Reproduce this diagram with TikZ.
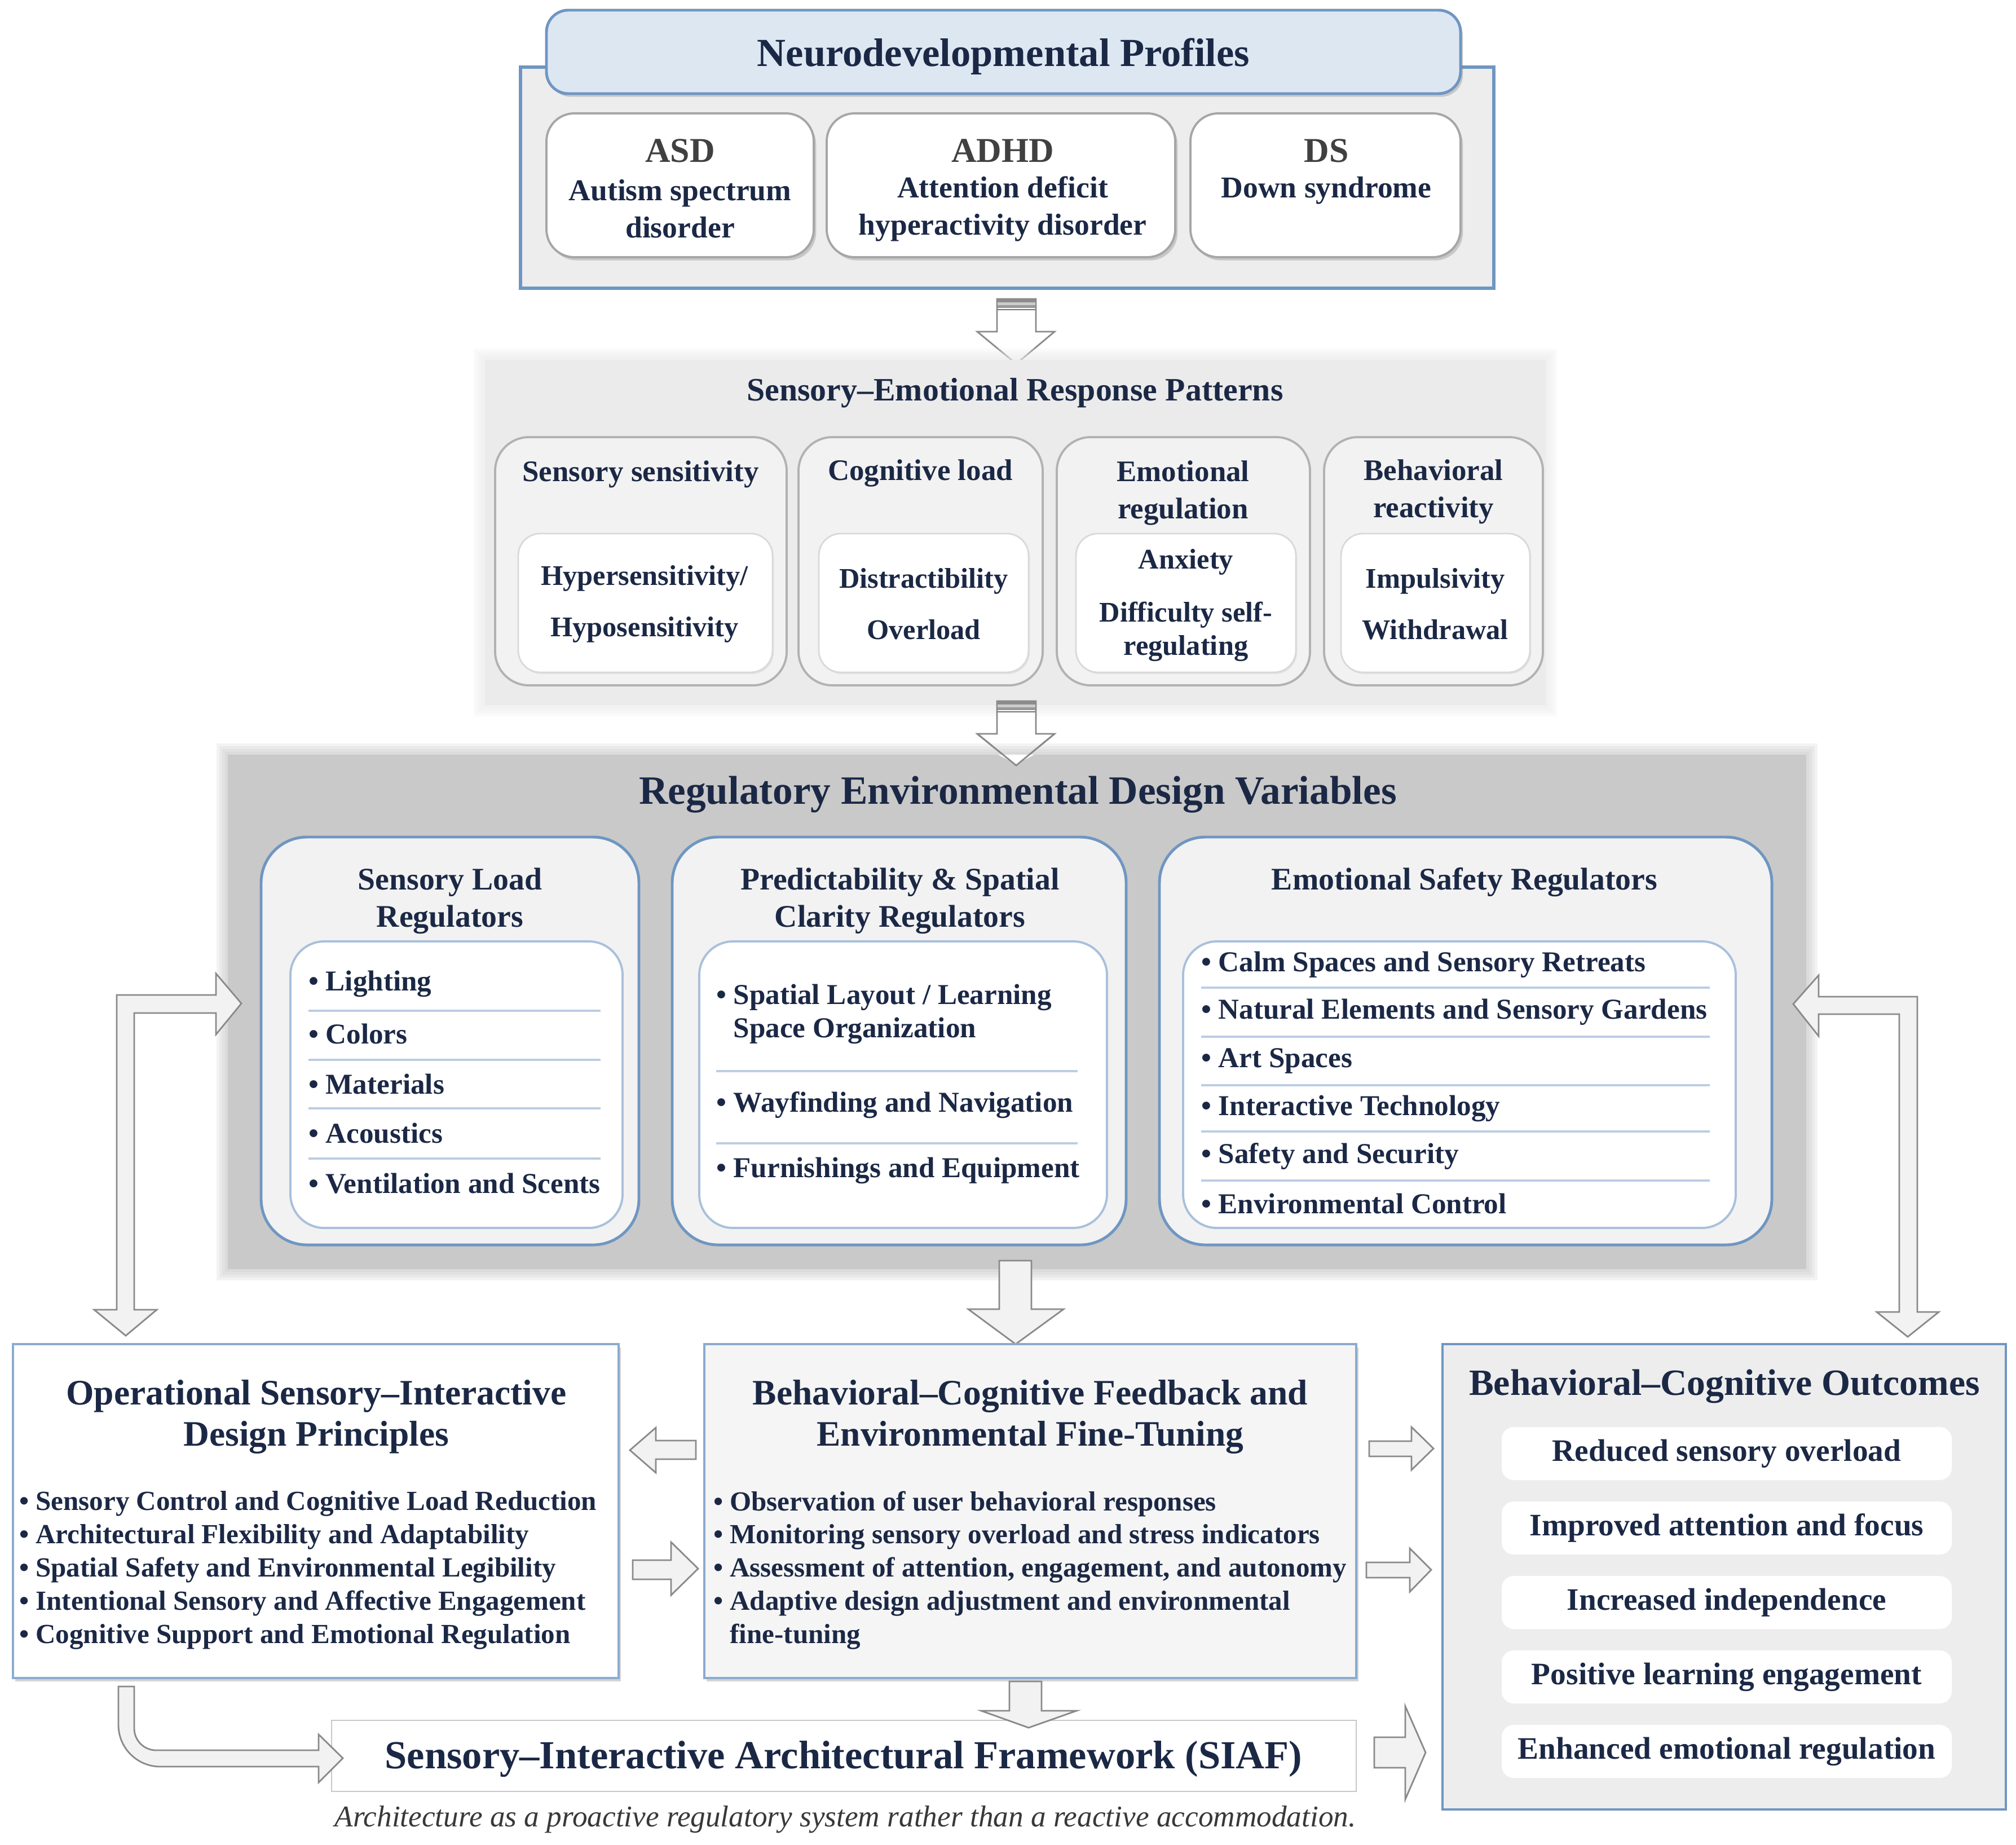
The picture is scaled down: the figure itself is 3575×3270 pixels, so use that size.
\documentclass[tikz,border=0pt]{standalone}
\usepackage{fontspec}
\setmainfont{Liberation Serif}
\usetikzlibrary{shadows,calc}
\definecolor{navy}{HTML}{1B2845}
\definecolor{bblue}{HTML}{6F96C2}
\definecolor{lblue}{HTML}{DDE7F2}
\definecolor{pgray}{HTML}{EDEDED}
\definecolor{sgray}{HTML}{EBEBEB}
\definecolor{rgray}{HTML}{C9C9C9}
\definecolor{agray}{HTML}{F2F2F2}
\definecolor{aline}{HTML}{8A8A8A}
\definecolor{sepblue}{HTML}{BCCDE2}
\definecolor{inblue}{HTML}{A9C0DB}
\newcommand{\fsz}[2]{\fontsize{#1}{#2}\selectfont\bfseries}
\begin{document}
\begin{tikzpicture}[x=0.2835pt,y=-0.2835pt,
  every node/.style={inner sep=0pt, outer sep=0pt},
  sz/.style 2 args={minimum width=#1*0.2835pt, minimum height=#2*0.2835pt},
  txt/.style={text=navy, align=center},
  itm/.style={text=navy, align=left, anchor=west, font=\fsz{14.5}{16.7}},
  softshadow/.style={drop shadow={shadow xshift=1.2pt, shadow yshift=-1.6pt, opacity=0.28, fill=black!60}},
  hdr/.style={draw=bblue, line width=1.4pt, fill=lblue, rounded corners=11pt, softshadow},
  probox/.style={draw=black!35, line width=1.1pt, fill=white, rounded corners=14pt, softshadow},
  serbox/.style={draw=black!30, line width=1.1pt, fill=agray, rounded corners=17pt},
  serin/.style={draw=black!15, line width=0.8pt, fill=white, rounded corners=11pt, drop shadow={shadow xshift=0.6pt, shadow yshift=-0.8pt, opacity=0.15}},
  rdvbox/.style={draw=bblue, line width=1.4pt, fill=agray, rounded corners=23pt},
  rdvin/.style={draw=inblue, line width=1.1pt, fill=white, rounded corners=17pt},
  sepl/.style={draw=sepblue, line width=1.1pt},
  bigbox/.style={draw=bblue!80, line width=0.9pt, softshadow},
  ocitem/.style={fill=white, rounded corners=6pt, sz={798}{94}, text=navy, font=\fsz{15.7}{19}},
  blockarrow/.style={fill=agray, draw=aline, line width=0.8pt, line join=miter}
]
\useasboundingbox (0,0) rectangle (3575,3270);
\fill[white] (0,0) rectangle (3575,3270);

%% ---------------- Row 1: Neurodevelopmental Profiles
\node[draw=bblue, line width=1.7pt, fill=pgray, sz={1726}{392}] (npbox) at (1786,315) {};
\node[hdr, sz={1621}{148}] (nphead) at (1779.5,92) {};
\node[txt, font=\fsz{20}{24}] (nptitle) at (1779.5,100) {Neurodevelopmental Profiles};

\node[probox, sz={474}{255}] (asd) at (1206,328.5) {};
\node[probox, sz={618}{255}] (adhd) at (1775,328.5) {};
\node[probox, sz={479}{255}] (ds) at (2350.5,328.5) {};
\node[text=black!75, font=\fsz{17.5}{20}] (asdl) at (1206,267) {ASD};
\node[text=black!75, font=\fsz{17.5}{20}] (adhdl) at (1778,267) {ADHD};
\node[text=black!75, font=\fsz{17.5}{20}] (dsl) at (2352,267) {DS};
\node[txt, font=\fsz{15.2}{18.7}] (asdd) at (1206,370) {Autism spectrum\\disorder};
\node[txt, font=\fsz{15.2}{18.7}] (adhdd) at (1778,370) {Attention deficit\\hyperactivity disorder};
\node[txt, font=\fsz{15.2}{18.7}] (dsd) at (2352,338) {Down syndrome};

%% Arrow 1
\draw[blockarrow, fill=white] (1768,530) -- (1837,530) -- (1837,588) -- (1870,588) -- (1802,645) -- (1733,588) -- (1768,588) -- cycle;
\fill[black!45] (1769,531) rectangle (1836,536);
\fill[black!20] (1769,536) rectangle (1836,541);
\fill[black!40] (1769,541) rectangle (1836,546);
\fill[black!55] (1769,548) rectangle (1836,550);

%% ---------------- Row 2: Sensory-Emotional Response Patterns
\node[fill=sgray, sz={1881}{612}] (serp) at (1800.5,944) {};
\foreach \k in {1,...,4}
  \fill[sgray, opacity=0.22] ($(serp.north west)+(-\k*5,-\k*5)$) rectangle ($(serp.south east)+(\k*5,\k*5)$);
\node[txt, font=\fsz{16.4}{20}] (sertitle) at (1800,697) {Sensory–Emotional Response Patterns};

\node[serbox, sz={517}{440}] (b1) at (1136.5,995) {};
\node[serbox, sz={433}{440}] (b2) at (1632.5,995) {};
\node[serbox, sz={449}{440}] (b3) at (2098.5,995) {};
\node[serbox, sz={388}{440}] (b4) at (2542,995) {};
\node[serin, sz={451}{246}] (i1) at (1144.5,1069) {};
\node[serin, sz={372}{246}] (i2) at (1638,1069) {};
\node[serin, sz={390}{246}] (i3) at (2103,1069) {};
\node[serin, sz={335}{246}] (i4) at (2545.5,1069) {};

\node[txt, font=\fsz{15}{18.7}] (h1) at (1136,841) {Sensory sensitivity};
\node[txt, font=\fsz{15}{18.7}] (h2) at (1632,839) {Cognitive load};
\node[txt, font=\fsz{15}{18.7}] (h3) at (2098,874) {Emotional\\regulation};
\node[txt, font=\fsz{15}{18.7}] (h4) at (2542,872) {Behavioral\\reactivity};

\node[txt, font=\fsz{14.3}{25.8}] (t1) at (1143,1071) {Hypersensitivity/\\Hyposensitivity};
\node[txt, font=\fsz{14.3}{25.8}] (t2) at (1638,1071) {Distractibility\\Overload};
\node[txt, font=\fsz{14.3}{18}] (t3a) at (2103,996) {Anxiety};
\node[txt, font=\fsz{14.3}{16.7}] (t3b) at (2103,1120) {Difficulty self-\\regulating};
\node[txt, font=\fsz{14.3}{25.8}] (t4) at (2545,1071) {Impulsivity\\Withdrawal};

%% Arrow 2
\draw[blockarrow, fill=white] (1768,1243) -- (1837,1243) -- (1837,1301) -- (1870,1301) -- (1802,1357) -- (1733,1301) -- (1768,1301) -- cycle;
\fill[black!45] (1769,1244) rectangle (1836,1249);
\fill[black!20] (1769,1249) rectangle (1836,1254);
\fill[black!40] (1769,1254) rectangle (1836,1259);
\fill[black!55] (1769,1261) rectangle (1836,1263);

%% ---------------- Row 3: Regulatory Environmental Design Variables
\node[fill=rgray, sz={2799}{912}] (rdv) at (1803.5,1794) {};
\foreach \k in {1,...,4}
  \fill[rgray, opacity=0.22] ($(rdv.north west)+(-\k*5,-\k*5)$) rectangle ($(rdv.south east)+(\k*5,\k*5)$);
% arrow 2 tip over the panel
\fill[white] (1770,1338) -- (1834,1338) -- (1802,1355) -- cycle;
\draw[aline, line width=0.8pt] (1733,1301) -- (1802,1357) -- (1870,1301);
\node[txt, font=\fsz{20.2}{24}] (rdvtitle) at (1805,1409) {Regulatory Environmental Design Variables};

\node[rdvbox, sz={670}{723}] (slr) at (798,1845.5) {};
\node[rdvbox, sz={805}{723}] (pcr) at (1594.5,1845.5) {};
\node[rdvbox, sz={1086}{723}] (esr) at (2599,1845.5) {};
\node[txt, font=\fsz{15.8}{18.7}] (slrh) at (798,1597) {Sensory Load\\Regulators};
\node[txt, font=\fsz{15.8}{18.7}] (pcrh) at (1596,1597) {Predictability \& Spatial\\Clarity Regulators};
\node[txt, font=\fsz{15.8}{18.7}] (esrh) at (2597,1564) {Emotional Safety Regulators};

\node[rdvin, sz={589}{508}] (sli) at (809.5,1923) {};
\node[rdvin, sz={723}{508}] (pci) at (1601.5,1923) {};
\node[rdvin, sz={980}{508}] (esi) at (2588,1923) {};

\foreach \yy in {1792,1879,1965,2054} \draw[sepl] (547,\yy) -- (1065,\yy);
\node[itm] (s1) at (547,1744) {• Lighting};
\node[itm] (s2) at (547,1833) {• Colors};
\node[itm] (s3) at (547,1922) {• Materials};
\node[itm] (s4) at (547,2009) {• Acoustics};
\node[itm] (s5) at (547,2098) {• Ventilation and Scents};

\foreach \yy in {1899,2027} \draw[sepl] (1270,\yy) -- (1911,\yy);
\node[itm] (p1) at (1270,1798) {• Spatial Layout / Learning\\\hphantom{• }Space Organization};
\node[itm] (p2) at (1270,1959) {• Wayfinding and Navigation};
\node[itm] (p3) at (1270,2075) {• Furnishings and Equipment};

\foreach \yy in {1751,1838,1924,2006,2093} \draw[sepl] (2130,\yy) -- (3032,\yy);
\node[itm] (e1) at (2130,1710) {• Calm Spaces and Sensory Retreats};
\node[itm] (e2) at (2130,1794) {• Natural Elements and Sensory Gardens};
\node[itm] (e3) at (2130,1881) {• Art Spaces};
\node[itm] (e4) at (2130,1965) {• Interactive Technology};
\node[itm] (e5) at (2130,2050) {• Safety and Security};
\node[itm] (e6) at (2130,2134) {• Environmental Control};

%% Side elbow arrows
\draw[blockarrow] (223,2368) -- (278,2322) -- (238,2322) -- (238,1796) -- (383,1796) -- (383,1834) -- (428,1779) -- (383,1726) -- (383,1764) -- (207,1764) -- (207,2322) -- (167,2322) -- cycle;
\draw[blockarrow] (3180,1780) -- (3225,1729) -- (3225,1767) -- (3400,1767) -- (3400,2326) -- (3438,2326) -- (3383,2370) -- (3328,2326) -- (3368,2326) -- (3368,1798) -- (3225,1798) -- (3225,1837) -- cycle;

%% Down arrow to feedback
\draw[blockarrow] (1772,2235) -- (1829,2235) -- (1829,2321) -- (1886,2321) -- (1801,2383) -- (1717,2321) -- (1772,2321) -- cycle;

%% ---------------- Row 4
\node[bigbox, fill=white, sz={1074}{592}] (op) at (560,2679) {};
\node[bigbox, fill=black!4, sz={1156}{592}] (fb) at (1827,2679) {};
\node[draw=bblue, line width=1.3pt, fill=pgray, sz={999}{825}] (oc) at (3057.5,2795.5) {};

\node[txt, font=\fsz{18}{20.7}] (optitle) at (561,2512) {Operational Sensory–Interactive\\Design Principles};
\node[itm, font=\fsz{13.9}{16.7}] (opitems) at (34,2784) {• Sensory Control and Cognitive Load Reduction\\• Architectural Flexibility and Adaptability\\• Spatial Safety and Environmental Legibility\\• Intentional Sensory and Affective Engagement\\• Cognitive Support and Emotional Regulation};

\node[txt, font=\fsz{18}{20.7}] (fbtitle) at (1827,2512) {Behavioral–Cognitive Feedback and\\Environmental Fine-Tuning};
\node[itm, font=\fsz{13.9}{16.7}] (fbitems) at (1265,2784) {• Observation of user behavioral responses\\• Monitoring sensory overload and stress indicators\\• Assessment of attention, engagement, and autonomy\\• Adaptive design adjustment and environmental\\\hphantom{• }fine-tuning};

\node[txt, font=\fsz{18.6}{22}] (octitle) at (3058,2458) {Behavioral–Cognitive Outcomes};
\node[ocitem] (o1) at (3062,2577) {Reduced sensory overload};
\node[ocitem] (o2) at (3062,2709) {Improved attention and focus};
\node[ocitem] (o3) at (3062,2841) {Increased independence};
\node[ocitem] (o4) at (3062,2973) {Positive learning engagement};
\node[ocitem] (o5) at (3062,3105) {Enhanced emotional regulation};

%% Row 4 arrows
\draw[blockarrow] (1117,2571) -- (1163,2531) -- (1163,2554) -- (1234,2554) -- (1234,2587) -- (1163,2587) -- (1163,2611) -- cycle;
\draw[blockarrow] (1238,2781) -- (1190,2734) -- (1190,2766) -- (1122,2766) -- (1122,2800) -- (1190,2800) -- (1190,2828) -- cycle;
\draw[blockarrow] (2542,2568) -- (2503,2530) -- (2503,2555) -- (2428,2555) -- (2428,2582) -- (2503,2582) -- (2503,2606) -- cycle;
\draw[blockarrow] (2538,2783) -- (2500,2745) -- (2500,2770) -- (2423,2770) -- (2423,2797) -- (2500,2797) -- (2500,2822) -- cycle;
\draw[blockarrow] (2528,3107) -- (2492,3025) -- (2492,3080) -- (2437,3080) -- (2437,3134) -- (2492,3134) -- (2492,3190) -- cycle;

%% SIAF
\node[draw=black!22, line width=0.8pt, fill=white, sz={1817}{126}] (siaf) at (1496.5,3113) {};
\node[txt, font=\fsz{20}{24}] (siaft) at (1496,3119) {Sensory–Interactive Architectural Framework (SIAF)};
\node[text=black!78, font=\fontsize{15.1}{17}\selectfont\itshape] (caption) at (1499,3226) {Architecture as a proactive regulatory system rather than a reactive accommodation.};

%% Down arrow feedback -> SIAF
\draw[blockarrow] (1790,2981) -- (1847,2981) -- (1847,3033) -- (1909,3033) -- (1824,3063) -- (1740,3033) -- (1790,3033) -- cycle;

%% Curved arrow operational -> SIAF
\draw[blockarrow] (210,2990) [rounded corners=21pt] -- (210,3132) [sharp corners] -- (565,3132) -- (565,3160) -- (608,3117) -- (565,3075) -- (565,3103) [rounded corners=11pt] -- (238,3103) [sharp corners] -- (238,2990) -- cycle;

\end{tikzpicture}
\end{document}
